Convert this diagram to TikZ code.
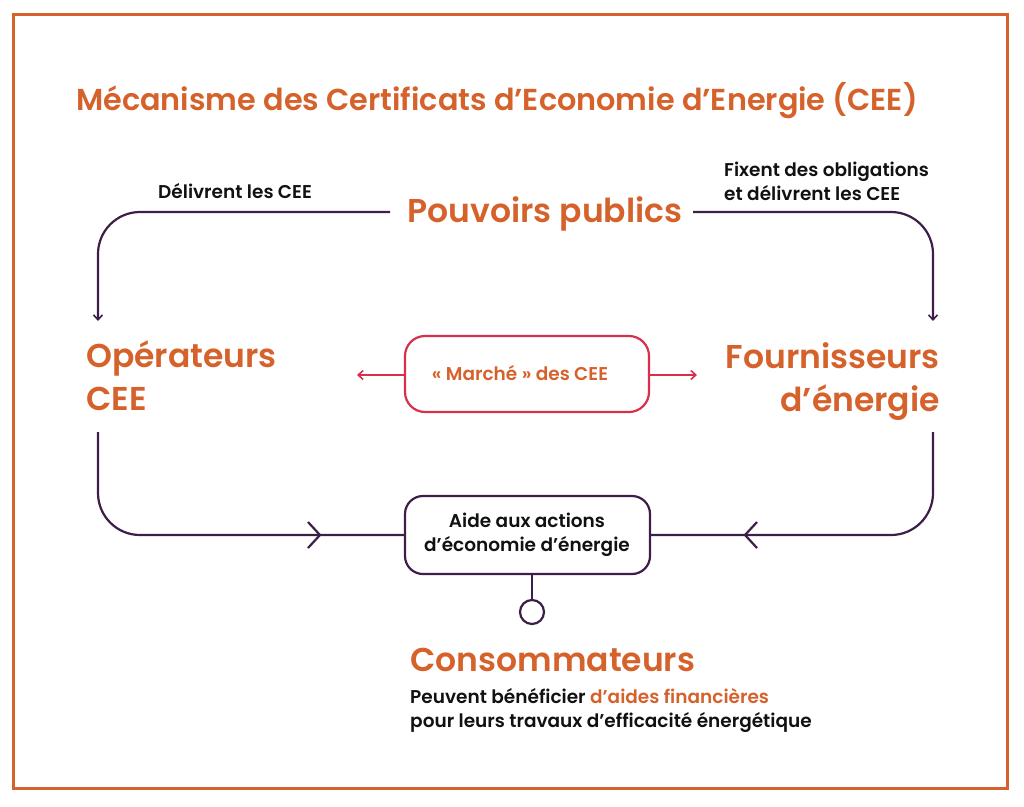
\documentclass[tikz,border=0pt]{standalone}
\usepackage{fontspec}
\setmainfont{Poppins}[UprightFont=* Medium, BoldFont=* SemiBold]
\usetikzlibrary{arrows.meta,calc}
\definecolor{corange}{HTML}{D5612B}
\definecolor{cpurple}{HTML}{3C1E48}
\definecolor{cpink}{HTML}{D8304C}
\definecolor{ctext}{HTML}{111111}
\tikzset{
  big/.style={font=\fontsize{33}{36}\selectfont\bfseries, text=corange, inner sep=0pt},
  small/.style={font=\fontsize{18.5}{24}\selectfont\bfseries, text=ctext, inner sep=0pt},
  conn/.style={draw=cpurple, line width=2.2pt, rounded corners=42pt},
  pinkconn/.style={draw=cpink, line width=2.2pt},
  tip/.style={-{Straight Barb[length=5pt,width=9pt,line width=1.6pt]}},
}
\begin{document}
\begin{tikzpicture}[x=1pt,y=-1pt]
\useasboundingbox (0,0) rectangle (1024,806);
\draw[corange, line width=3pt] (13,14) rectangle (1007,788);
\node[big, anchor=base west, font=\fontsize{30.3}{33}\selectfont\bfseries] (title) at (76,110) {Mécanisme des Certificats d’Economie d’Energie (CEE)};
\node[big, anchor=base] (pp) at (545,222) {Pouvoirs publics};
\node[small, anchor=base west] (l1) at (158,198) {Délivrent les CEE};
\node[small, anchor=base west] (r1) at (724,176) {Fixent des obligations};
\node[small, anchor=base west] (r2) at (724,200) {et délivrent les CEE};
\node[big, anchor=base west] (op) at (86,367) {Opérateurs};
\node[big, anchor=base west] (op2) at (86,410) {CEE};
\node[big, anchor=base east] (fo) at (940,368) {Fournisseurs};
\node[big, anchor=base east] (fo2) at (940,411) {d’énergie};
\node[draw=cpink, line width=2.2pt, rounded corners=20pt, minimum width=244pt, minimum height=76pt, inner sep=0pt] (mk) at (527,374) {};
\node[small, text=corange, anchor=base] (mkt) at (520,380) {« Marché » des CEE};
\node[draw=cpurple, line width=2.2pt, rounded corners=18pt, minimum width=245pt, minimum height=78pt, inner sep=0pt] (aide) at (527.5,535) {};
\node[small, anchor=base] (a1) at (527,527) {Aide aux actions};
\node[small, anchor=base] (a2) at (527,551) {d’économie d’énergie};
\node[circle, draw=cpurple, line width=2.2pt, minimum size=24pt, inner sep=0pt] (cs) at (532,612) {};
\node[big, anchor=base west] (co) at (410,671) {Consommateurs};
\node[small, anchor=base west] (s1) at (410,703) {Peuvent bénéficier \textcolor{corange}{d’aides financières}};
\node[small, anchor=base west] (s2) at (410,727) {pour leurs travaux d’efficacité énergétique};
% top connectors
\coordinate (ppl) at (390,212);
\coordinate (ppr) at (693,212);
\coordinate (opin) at (98,321);
\coordinate (foin) at (933,321);
\draw[conn, tip] (ppl) -| (opin);
\draw[conn, tip] (ppr) -| (foin);
% market arrows
\coordinate (mkl) at (357,375);
\coordinate (mkr) at (697,375);
\draw[pinkconn, tip] (mk.west |- mkl) -- (mkl);
\draw[pinkconn, tip] (mk.east |- mkr) -- (mkr);
% bottom connectors
\coordinate (opout) at (98,432);
\coordinate (foout) at (933,432);
\draw[conn] (opout) |- (aide.west);
\draw[conn] (foout) |- (aide.east);
\draw[draw=cpurple, line width=2.2pt] (308,522) -- (320,535) -- (308,548);
\draw[draw=cpurple, line width=2.2pt] (757,522) -- (745,535) -- (757,548);
% stem
\draw[draw=cpurple, line width=2.2pt] (aide.south -| cs) -- (cs.north);
\end{tikzpicture}
\end{document}
